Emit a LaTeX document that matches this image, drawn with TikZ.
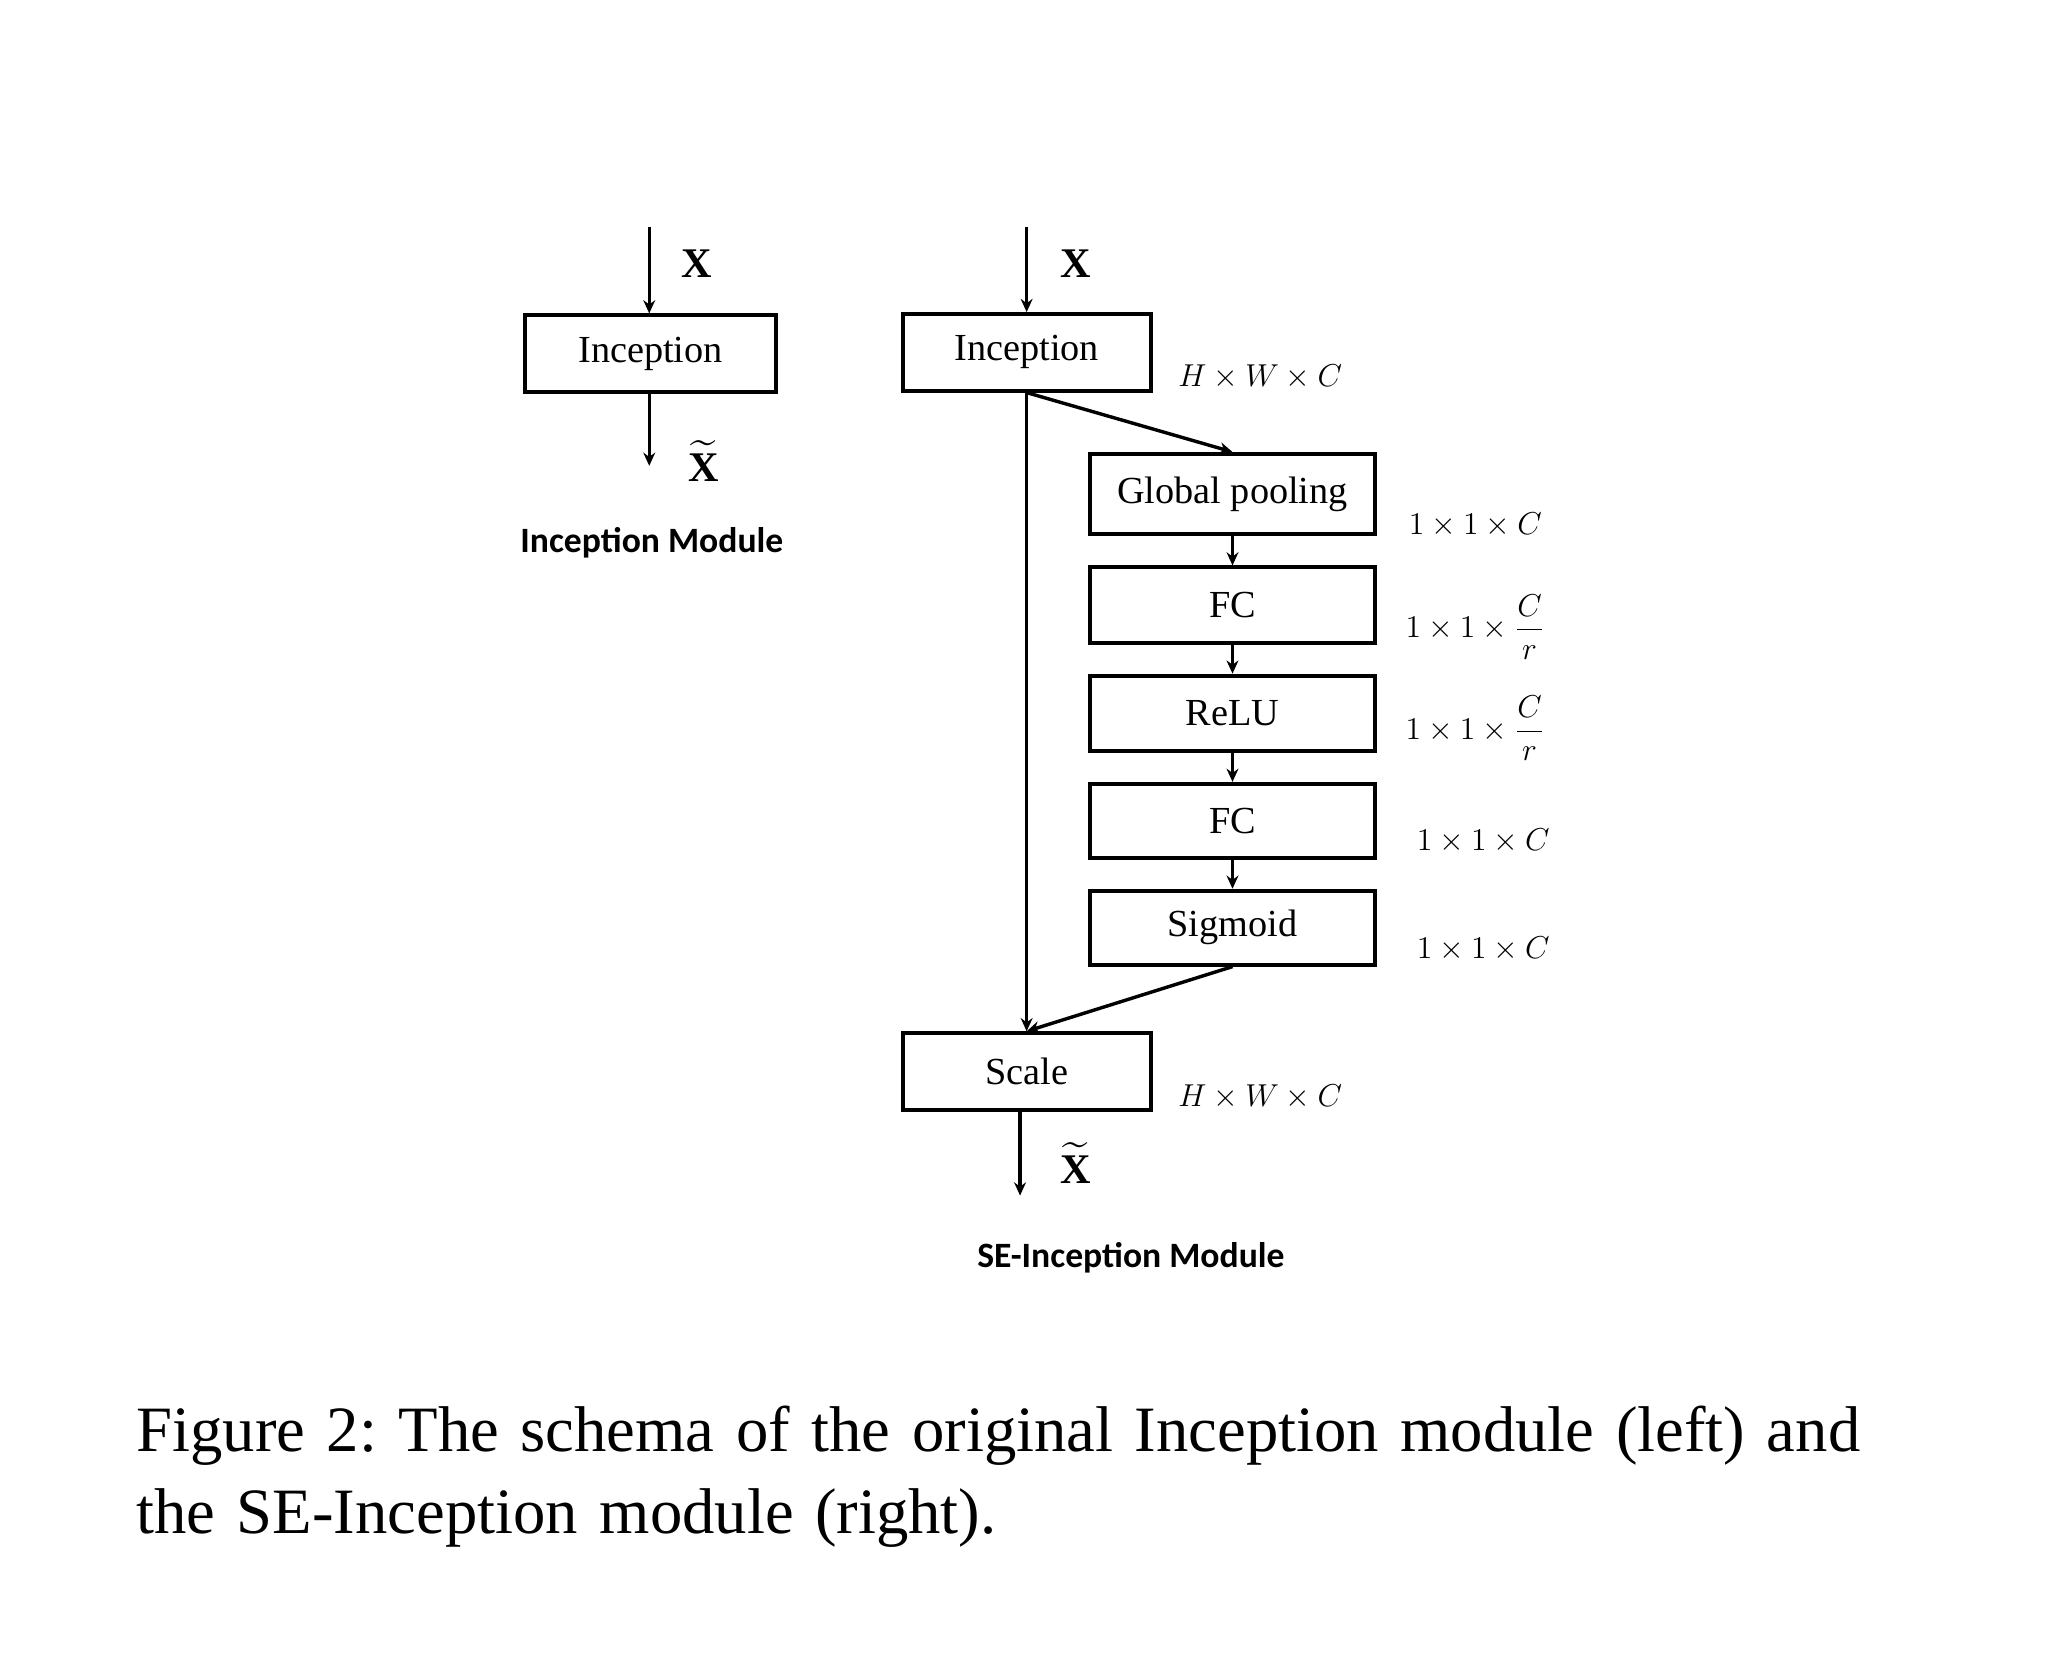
\documentclass[tikz,border=0pt]{standalone}
\usepackage{amsmath}
\usepackage{fontspec}
\setmainfont{Liberation Serif}
\newfontfamily\sansb{Carlito}
\usetikzlibrary{arrows.meta}
\begin{document}
\begin{tikzpicture}[x=0.5pt,y=-0.5pt,
  box/.style={draw,line width=1.5pt,minimum width=#1,inner sep=0pt,font=\fontsize{14.5}{16}\selectfont},
  arr/.style={line width=1.3pt,-{Stealth[length=5pt,width=4.5pt]}},
  lbl/.style={font=\fontsize{13}{15}\selectfont},
  big/.style={font=\fontsize{16}{18}\selectfont}]
\useasboundingbox (0,0) rectangle (1552,1264);
% left
\node[box=95pt,minimum height=29pt] (li) at (493,268) {Inception};
\coordinate (lt) at (492,172);
\coordinate (lb) at (492,353);
\draw[arr] (lt) -- (li.north -| lt);
\draw[arr] (li.south -| lb) -- (lb);
\node[big] (lx) at (528,200) {$\mathbf{X}$};
\node[big] (lxt) at (533,349) {$\widetilde{\mathbf{X}}$};
\node[font=\sansb\bfseries\fontsize{13.5}{16}\selectfont] (lm) at (494,411) {Inception Module};
% right
\node[box=94pt,minimum height=29pt] (ri) at (778,267) {Inception};
\coordinate (rt) at (778,172);
\draw[arr] (rt) -- (ri.north);
\node[big] (rx) at (815,200) {$\mathbf{X}$};
\node[lbl] (l1) at (955,286) {$H\times W\times C$};
\node[box=108pt,minimum height=30.5pt] (gp) at (934,374.5) {Global pooling};
\node[box=108pt,minimum height=28.5pt] (fc1) at (934,458.5) {FC};
\node[box=108pt,minimum height=28.5pt] (relu) at (934,540.5) {ReLU};
\node[box=108pt,minimum height=28pt] (fc2) at (934,622) {FC};
\node[box=108pt,minimum height=28pt] (sig) at (934,703) {Sigmoid};
\node[box=94pt,minimum height=29pt] (sc) at (778,812) {Scale};
\node[lbl] (l2) at (1118,398) {$1\times1\times C$};
\node[lbl] (l3) at (1118,475) {$1\times1\times\dfrac{C}{r}$};
\node[lbl] (l4) at (1118,552) {$1\times1\times\dfrac{C}{r}$};
\node[lbl] (l5) at (1124,637) {$1\times1\times C$};
\node[lbl] (l6) at (1124,719) {$1\times1\times C$};
\node[lbl] (l7) at (955,831) {$H\times W\times C$};
\draw[arr] (ri.south) -- (sc.north);
\draw[arr] (ri.south) -- (gp.north);
\draw[arr] (gp) -- (fc1);
\draw[arr] (fc1) -- (relu);
\draw[arr] (relu) -- (fc2);
\draw[arr] (fc2) -- (sig);
\draw[arr] (sig.south) -- (sc.north);
\coordinate (rb) at (773,906);
\draw[arr] (sc.south -| rb) -- (rb);
\node[big] (rxt) at (815,881) {$\widetilde{\mathbf{X}}$};
\node[font=\sansb\bfseries\fontsize{13.5}{16}\selectfont] (rm) at (857,953) {SE-Inception Module};
% caption
\node[anchor=base west,font=\fontsize{24.5}{31}\selectfont,align=left,text width=700pt,inner sep=0pt] (cap) at (103,1100)
 {Figure 2:\ The schema of the original Inception module (left) and\\the SE-Inception module (right).};
\end{tikzpicture}
\end{document}
